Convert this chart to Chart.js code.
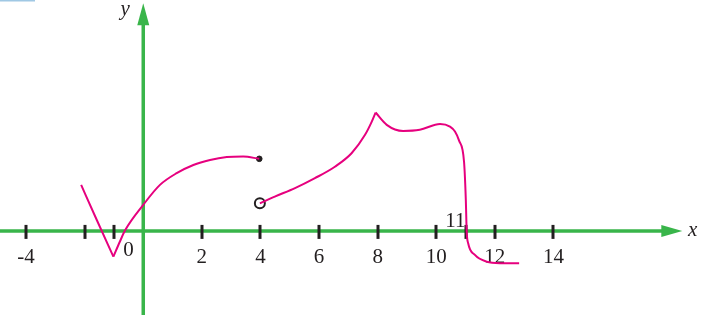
<!DOCTYPE html>
<html><head><meta charset="utf-8">
<script src="https://cdn.jsdelivr.net/npm/chart.js@4/dist/chart.umd.min.js"></script>
<style>html,body{margin:0;padding:0;background:#fff}#w{width:704px;height:315px}</style>
</head><body><div id="w"><canvas id="c" width="704" height="315"></canvas></div>
<script>
// Data
const pieceAX = [-2.12, -1.59, -1.02];
const pieceAY = [1.57, 0.38, -0.88];
const pieceBX = [-1.02, -0.80, -0.62, 0, 0.57, 1.14, 1.71, 2.28, 2.85, 3.41, 3.96];
const pieceBY = [-0.88, -0.37, 0.02, 0.89, 1.57, 1.97, 2.25, 2.42, 2.52, 2.54, 2.46];
const pieceCX = [3.98, 4.49, 5.18, 5.86, 6.54, 7.11, 7.57, 7.80, 7.93];
const pieceCY = [0.94, 1.17, 1.46, 1.80, 2.19, 2.65, 3.28, 3.73, 4.04];
const pieceDX = [7.93, 8.31, 8.87, 9.44, 10.13, 10.47, 10.64, 10.78, 10.95, 11.01, 11.04, 11.09, 11.32, 11.72, 12.17, 12.83];
const pieceDY = [4.04, 3.62, 3.41, 3.45, 3.65, 3.56, 3.39, 3.08, 2.35, 1.06, -0.02, -0.42, -0.82, -1.05, -1.10, -1.10];
const closedDot = [{x: 3.96, y: 2.46}];
const openDot = [{x: 3.98, y: 0.94}];
const tickValues = [-4, -2, -1, 2, 4, 6, 8, 10, 11, 12, 14];
const belowLabels = ['-4', '0', '2', '4', '6', '8', '10', '12', '14'];
const belowLabelValues = [-4, -0.5, 2, 4, 6, 8, 10, 12, 14];
const aboveLabels = ['11'];
const aboveLabelValues = [10.65];
const xTitle = 'x', yTitle = 'y';

const pts = (xs, ys) => xs.map((x, i) => ({x, y: ys[i]}));
const MAG = 'rgb(230,0,126)', GREEN = 'rgb(57,181,74)', INK = '#231f20';
const curve = (d) => ({type: 'line', data: d, borderColor: MAG, borderWidth: 2, pointRadius: 0, tension: 0.4, cubicInterpolationMode: 'monotone', fill: false});

const axesPlugin = {
  id: 'axes',
  beforeDatasetsDraw(chart) {
    const {ctx} = chart, xs = chart.scales.x, ys = chart.scales.y;
    const x0 = xs.getPixelForValue(0), y0 = ys.getPixelForValue(0);
    const W = chart.width, H = chart.height;
    ctx.save();
    // artifact line top-left
    ctx.fillStyle = 'rgb(160,200,228)';
    ctx.fillRect(0, 0, 35, 1.5);
    ctx.strokeStyle = GREEN; ctx.fillStyle = GREEN; ctx.lineWidth = 3.5;
    const xEnd = xs.getPixelForValue(18.4);
    ctx.beginPath(); ctx.moveTo(0, y0); ctx.lineTo(xEnd - 18, y0); ctx.stroke();
    ctx.beginPath(); ctx.moveTo(xEnd, y0); ctx.lineTo(xEnd - 21, y0 - 6); ctx.lineTo(xEnd - 21, y0 + 6); ctx.closePath(); ctx.fill();
    const yEnd = ys.getPixelForValue(7.77);
    ctx.beginPath(); ctx.moveTo(x0, H); ctx.lineTo(x0, yEnd + 18); ctx.stroke();
    ctx.beginPath(); ctx.moveTo(x0, yEnd); ctx.lineTo(x0 - 6, yEnd + 22); ctx.lineTo(x0 + 6, yEnd + 22); ctx.closePath(); ctx.fill();
    // ticks
    ctx.strokeStyle = INK; ctx.lineWidth = 3;
    tickValues.forEach(v => {
      const px = Math.round(xs.getPixelForValue(v));
      ctx.beginPath(); ctx.moveTo(px, y0 - 6); ctx.lineTo(px, y0 + 8); ctx.stroke();
    });
    ctx.fillStyle = INK;
    ctx.font = '21px "Liberation Serif"';
    ctx.textAlign = 'center'; ctx.textBaseline = 'alphabetic';
    belowLabels.forEach((t, i) => {
      const px = xs.getPixelForValue(belowLabelValues[i]);
      const py = t === '0' ? y0 + 25 : y0 + 32;
      ctx.fillText(t, px, py);
    });
    aboveLabels.forEach((t, i) => {
      ctx.fillText(t, xs.getPixelForValue(aboveLabelValues[i]), y0 - 4);
    });
    ctx.font = 'italic 21px "Liberation Serif"';
    ctx.fillText(xTitle, xs.getPixelForValue(18.75), y0 + 5);
    ctx.fillText(yTitle, x0 - 18, ys.getPixelForValue(7.37));
    ctx.restore();
  }
};

new Chart(document.getElementById('c'), {
  type: 'line',
  data: {datasets: [
    curve(pts(pieceAX, pieceAY)),
    curve(pts(pieceBX, pieceBY)),
    curve(pts(pieceCX, pieceCY)),
    curve(pts(pieceDX, pieceDY)),
    {type: 'scatter', data: closedDot, pointRadius: 2.8, pointBackgroundColor: INK, pointBorderColor: INK, showLine: false},
    {type: 'scatter', data: openDot, pointRadius: 5, pointBackgroundColor: 'rgba(0,0,0,0)', pointBorderColor: INK, pointBorderWidth: 2, showLine: false}
  ]},
  options: {
    responsive: false, animation: false, devicePixelRatio: 1,
    layout: {padding: 0, autoPadding: false},
    plugins: {legend: {display: false}, tooltip: {enabled: false}},
    scales: {
      x: {type: 'linear', min: -4.89, max: 19.14, display: false},
      y: {type: 'linear', min: -2.87, max: 7.88, display: false}
    }
  },
  plugins: [axesPlugin]
});
</script></body></html>
